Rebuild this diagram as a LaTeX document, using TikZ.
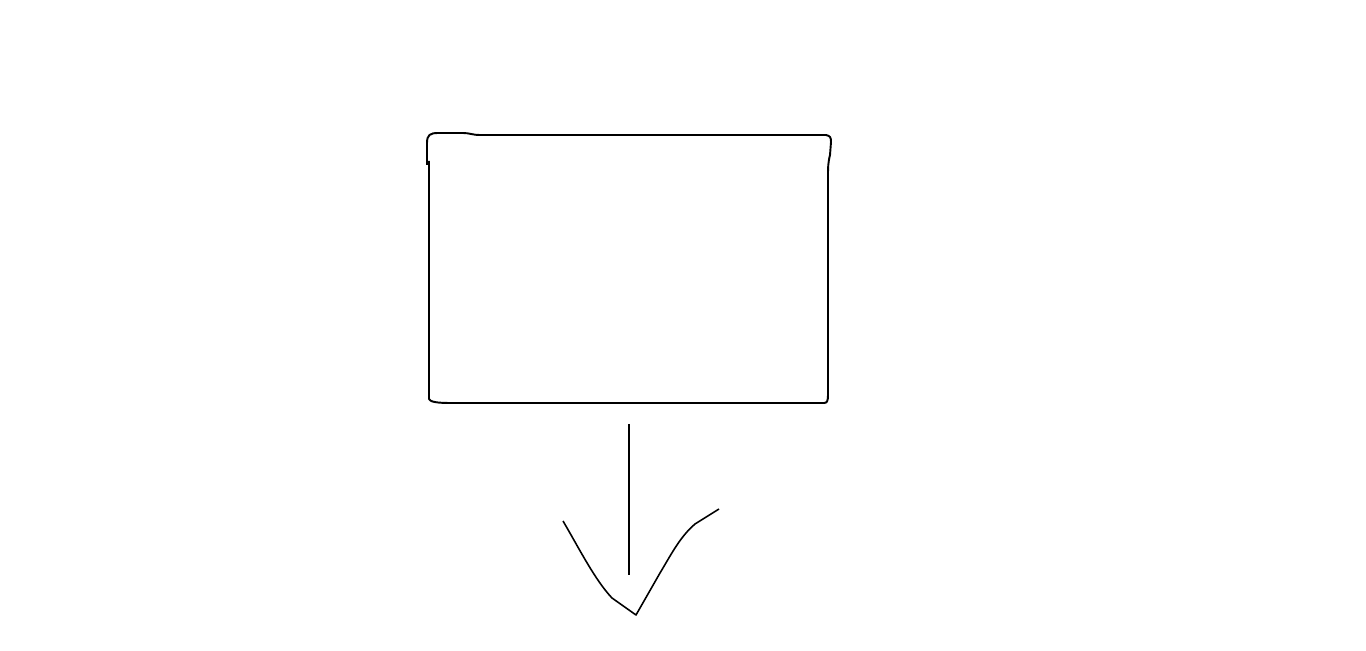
\documentclass[tikz,border=0pt]{standalone}
\usepackage{tikz}
\usetikzlibrary{calc}
\begin{document}
\begin{tikzpicture}[x=0.02cm,y=-0.02cm,line width=1.1pt]
	\useasboundingbox (0,0) rectangle (1366,651);

	% box
	\draw[line join=round] (427,165) -- (427,143) .. controls (427,135) and (430,133) .. (438,133) -- (463,133) .. controls (470,133) and (472,135) .. (480,135) -- (826,135) .. controls (830,136) and (831,137) .. (831,142) -- (830,155) .. controls (828,163) and (828,168) .. (828,175) -- (828,395) .. controls (828,401) and (827,403) .. (824,403) -- (450,403) .. controls (438,403) and (430,402) .. (429,399) -- (429,161);

	% arrow
	\draw (629,424) -- (629,575);
	\draw[line width=0.9pt,line join=round] (563,521) .. controls (580,550) and (595,580) .. (612,598) -- (636,615) -- (660,573) .. controls (672,553) and (680,537) .. (695,524) -- (719,509);
\end{tikzpicture}
\end{document}
